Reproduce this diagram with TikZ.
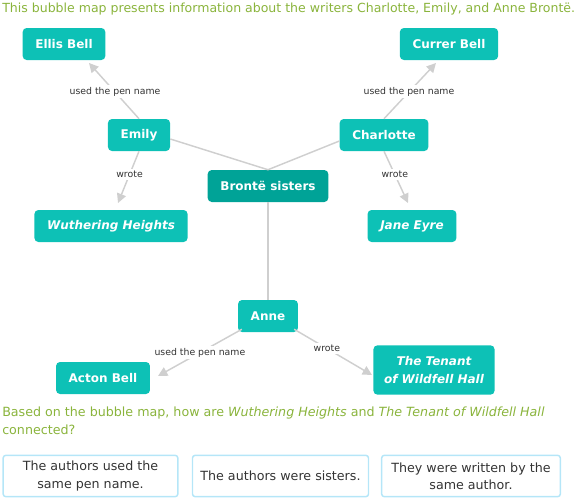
\documentclass[tikz,border=0pt]{standalone}
\usepackage{fontspec}
\setmainfont{DejaVu Sans}
\usetikzlibrary{arrows.meta,positioning}

\definecolor{bubble}{HTML}{0DC1B6}
\definecolor{bubbledark}{HTML}{00A397}
\definecolor{linkgray}{HTML}{CFCFCF}
\definecolor{titlegreen}{HTML}{8AB43C}
\definecolor{answerblue}{HTML}{B5E6F8}
\definecolor{textdark}{HTML}{333333}

\begin{document}
\begin{tikzpicture}[
  x=0.75pt, y=-0.75pt,
  font=\fontsize{9}{11}\selectfont,
  >={Triangle[width=7pt,length=7pt]},
  bubblebox/.style={
    fill=bubble, text=white, rounded corners=3pt,
    font=\fontsize{9}{11}\selectfont\bfseries, align=center,
    inner xsep=9.5pt, minimum height=24pt
  },
  linkline/.style={draw=linkgray, line width=1.1pt},
  arr/.style={->, linkgray, line width=1.1pt},
  linklabel/.style={fill=white, text=textdark, inner sep=1.5pt,
    font=\fontsize{7}{9}\selectfont},
  answerbox/.style={
    draw=answerblue, line width=1.1pt, rounded corners=2pt,
    text=textdark, align=center, minimum height=31pt,
    font=\fontsize{9.5}{13}\selectfont
  }
]
\useasboundingbox (0,0) rectangle (579,500);

% Title
\node[anchor=west, text=titlegreen, inner sep=0pt,
  font=\fontsize{9.4}{11}\selectfont] (title) at (2,9)
  {This bubble map presents information about the writers Charlotte, Emily, and Anne Brontë.};

% Centre
\node[bubblebox, fill=bubbledark] (sisters) at (268,186) {Brontë sisters};

% Sisters
\node[bubblebox] (emily) at (139,135) {Emily};
\node[bubblebox] (charlotte) at (384,135) {Charlotte};
\node[bubblebox] (anne) at (268,316) {Anne};

% Pen names
\node[bubblebox] (ellis) at (64,44) {Ellis Bell};
\node[bubblebox] (currer) at (449,44) {Currer Bell};
\node[bubblebox] (acton) at (103,378) {Acton Bell};

% Novels
\node[bubblebox] (wuthering) at (111,226) {\itshape Wuthering Heights};
\node[bubblebox] (jane) at (412,226) {\itshape Jane Eyre};
\node[bubblebox, minimum height=37pt, inner xsep=8pt,
  font=\fontsize{9}{13}\selectfont\bfseries] (tenant) at (434,370)
  {\itshape The Tenant\\\itshape of Wildfell Hall};

% Links to the centre
\draw[linkline] (emily.east) ++(0,4) -- (sisters.north);
\draw[linkline] (charlotte.west) ++(0,6) -- (sisters.north);
\draw[linkline] (sisters.south) -- (anne.north);

% Arrows
\draw[arr] (emily.north) -- node[linklabel, pos=0.48] {used the pen name} (89,63);
\draw[arr] (charlotte.north) -- node[linklabel, pos=0.48] {used the pen name} (436,63);
\draw[arr] (emily.south) -- node[linklabel, pos=0.45] {wrote} (118,203);
\draw[arr] (charlotte.south) -- node[linklabel, pos=0.45] {wrote} (408,203);
\draw[arr] (anne.south west) ++(4,-3) -- node[linklabel, pos=0.5] {used the pen name} (158,376);
\draw[arr] (anne.south east) ++(-4,-3) -- node[linklabel, pos=0.42] {wrote} (372,375);

% Question
\node[anchor=north west, text=titlegreen, align=left, inner sep=0pt,
  font=\fontsize{9.5}{13.5}\selectfont] (question) at (2,407)
  {Based on the bubble map, how are \textit{Wuthering Heights} and \textit{The Tenant of Wildfell Hall}\\connected?};

% Answers
\node[answerbox, minimum width=131pt] (ans1) at (90.5,476) {The authors used the\\same pen name.};
\node[answerbox, minimum width=132pt] (ans2) at (280.5,476) {The authors were sisters.};
\node[answerbox, minimum width=134pt] (ans3) at (471,476) {They were written by the\\same author.};

\end{tikzpicture}
\end{document}
